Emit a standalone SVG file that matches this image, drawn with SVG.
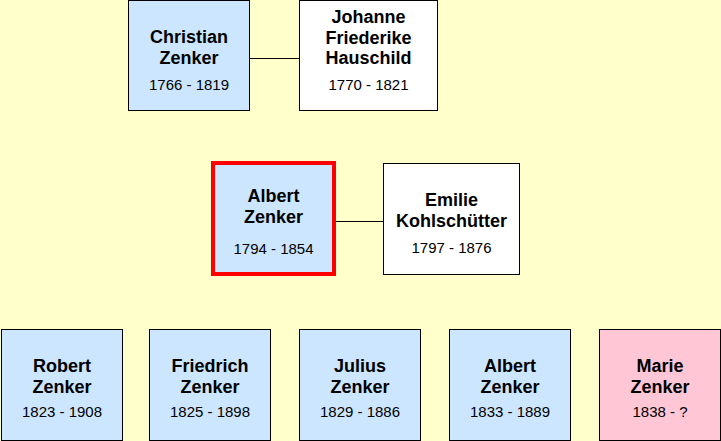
<svg xmlns="http://www.w3.org/2000/svg" width="721" height="441" viewBox="0 0 721 441">
<style>
.bg{fill:#FFFFCC}
.box{stroke:#000;stroke-width:1}
.m{fill:#CCE6FF}
.w{fill:#FFFFFF}
.f{fill:#FFC6D6}
.sel{fill:#CCE6FF;stroke:#FF0000;stroke-width:4}
.n{font-family:"Liberation Sans",Arial,sans-serif;font-weight:bold;font-size:18px;fill:#000;text-anchor:middle}
.y{font-family:"Liberation Sans",Arial,sans-serif;font-size:15px;fill:#000;text-anchor:middle}
.c{stroke:#000;stroke-width:1;fill:none}
</style>
<rect class="bg" x="0" y="0" width="721" height="441"/>
<g id="connectors">
<line class="c" x1="249.5" y1="58.5" x2="299.5" y2="58.5"/>
<line class="c" x1="336" y1="221.5" x2="383.5" y2="221.5"/>
</g>
<g id="christian">
<rect class="box m" x="128.5" y="0.5" width="121" height="110"/>
<text class="n" x="189" y="43">Christian</text>
<text class="n" x="189" y="64">Zenker</text>
<text class="y" x="189" y="90">1766 - 1819</text>
</g>
<g id="johanne">
<rect class="box w" x="299.5" y="0.5" width="138" height="110"/>
<text class="n" x="368.5" y="23">Johanne</text>
<text class="n" x="368.5" y="44">Friederike</text>
<text class="n" x="368.5" y="64">Hauschild</text>
<text class="y" x="368.5" y="90">1770 - 1821</text>
</g>
<g id="albert">
<rect class="sel" x="213" y="163" width="121" height="111"/>
<text class="n" x="273.5" y="202">Albert</text>
<text class="n" x="273.5" y="223">Zenker</text>
<text class="y" x="273.5" y="254">1794 - 1854</text>
</g>
<g id="emilie">
<rect class="box w" x="383.5" y="163.5" width="136" height="111"/>
<text class="n" x="451.5" y="206">Emilie</text>
<text class="n" x="451.5" y="227">Kohlschütter</text>
<text class="y" x="451.5" y="253">1797 - 1876</text>
</g>
<g id="robert">
<rect class="box m" x="1.5" y="329.5" width="121" height="111"/>
<text class="n" x="62" y="372">Robert</text>
<text class="n" x="62" y="393">Zenker</text>
<text class="y" x="62" y="417">1823 - 1908</text>
</g>
<g id="friedrich">
<rect class="box m" x="149.5" y="329.5" width="121" height="111"/>
<text class="n" x="210" y="372">Friedrich</text>
<text class="n" x="210" y="393">Zenker</text>
<text class="y" x="210" y="417">1825 - 1898</text>
</g>
<g id="julius">
<rect class="box m" x="299.5" y="329.5" width="121" height="111"/>
<text class="n" x="360" y="372">Julius</text>
<text class="n" x="360" y="393">Zenker</text>
<text class="y" x="360" y="417">1829 - 1886</text>
</g>
<g id="albert2">
<rect class="box m" x="449.5" y="329.5" width="121" height="111"/>
<text class="n" x="510" y="372">Albert</text>
<text class="n" x="510" y="393">Zenker</text>
<text class="y" x="510" y="417">1833 - 1889</text>
</g>
<g id="marie">
<rect class="box f" x="599.5" y="329.5" width="121" height="111"/>
<text class="n" x="660" y="372">Marie</text>
<text class="n" x="660" y="393">Zenker</text>
<text class="y" x="660" y="417">1838 - ?</text>
</g>
</svg>
